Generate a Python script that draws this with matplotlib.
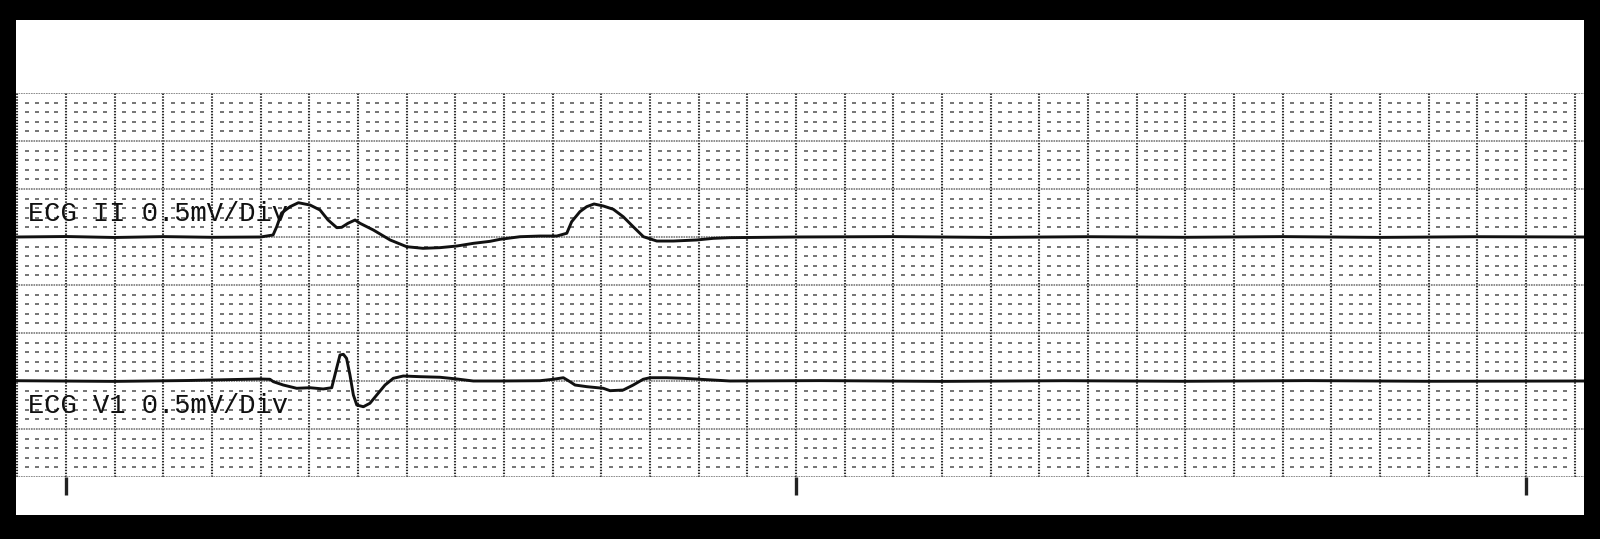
import numpy as np
import matplotlib
matplotlib.use("Agg")
import matplotlib.pyplot as plt

# ---------------- data (time in s, amplitude in mV) ----------------
ecg2_t = [-0.206, 0.00, 0.20, 0.40, 0.60, 0.80, 0.851, 0.866, 0.886, 0.921,
          0.955, 1.003, 1.044, 1.077, 1.113, 1.133, 1.159, 1.188, 1.208, 1.263,
          1.332, 1.400, 1.467, 1.537, 1.606, 1.674, 1.743, 1.784, 1.866, 1.948,
          2.017, 2.058, 2.078, 2.112, 2.140, 2.170, 2.208, 2.249, 2.290, 2.331,
          2.373, 2.428, 2.496, 2.592, 2.660, 2.729, 3.00, 3.40, 3.80, 4.20,
          4.60, 5.00, 5.40, 5.80, 6.239]
ecg2_mv = [0.000, 0.005, -0.005, 0.004, -0.003, 0.000, 0.021, 0.107, 0.250, 0.316,
           0.357, 0.333, 0.281, 0.177, 0.097, 0.101, 0.143, 0.177, 0.143, 0.073,
           -0.031, -0.101, -0.118, -0.111, -0.094, -0.066, -0.045, -0.024, 0.003, 0.010,
           0.010, 0.039, 0.159, 0.264, 0.316, 0.344, 0.323, 0.289, 0.211, 0.107,
           0.003, -0.042, -0.042, -0.031, -0.014, -0.007, 0.000, 0.004, -0.004, 0.003,
           -0.003, 0.004, -0.004, 0.003, 0.000]

v1_t = [-0.206, 0.20, 0.50, 0.797, 0.838, 0.852, 0.893, 0.948, 1.003, 1.057,
        1.092, 1.112, 1.126, 1.140, 1.153, 1.167, 1.181, 1.195, 1.222, 1.249,
        1.277, 1.311, 1.345, 1.386, 1.455, 1.537, 1.606, 1.674, 1.784, 1.948,
        2.003, 2.044, 2.071, 2.092, 2.140, 2.208, 2.236, 2.290, 2.331, 2.372,
        2.400, 2.468, 2.537, 2.605, 2.729, 3.10, 3.60, 4.10, 4.60, 5.10,
        5.60, 6.239]
v1_mv = [0.003, -0.004, 0.005, 0.021, 0.018, -0.007, -0.042, -0.076, -0.070, -0.083,
         -0.070, 0.132, 0.271, 0.278, 0.236, 0.062, -0.146, -0.250, -0.268, -0.232,
         -0.146, -0.042, 0.028, 0.052, 0.045, 0.039, 0.021, 0.000, 0.000, 0.003,
         0.018, 0.034, -0.007, -0.042, -0.059, -0.076, -0.101, -0.094, -0.042, 0.018,
         0.034, 0.034, 0.028, 0.018, 0.000, 0.004, -0.004, 0.003, -0.003, 0.004,
         -0.003, 0.000]

labels = ["ECG II 0.5mV/Div", "ECG V1 0.5mV/Div"]
offsets_mv = [2.5, 1.0]          # trace baselines on the 4 mV tall strip
label_y = [2.667, 0.670]
marker_times = [0.0, 3.0, 6.0]

# ---------------- layout ----------------
W, H = 1600, 539
fig = plt.figure(figsize=(W / 100, H / 100), dpi=100, facecolor="black")

paper = fig.add_axes([16 / W, (H - 515) / H, 1568 / W, 495 / H])
paper.set_facecolor("white")
paper.set_xticks([]); paper.set_yticks([])
for s in paper.spines.values():
    s.set_visible(False)

ax = fig.add_axes([16 / W, (H - 477) / H, 1568 / W, 384 / H])
ax.set_facecolor("none")
px_per_s = 730 / 3.0
t0 = (16 - 66) / px_per_s
t1 = (1584 - 66) / px_per_s
ax.set_xlim(t0, t1)
ax.set_ylim(0, 4)
ax.axis("off")

# major vertical lines (dense dark dots)
for t in np.arange(-0.2, t1, 0.2):
    ax.plot([t, t], [0, 4], color="#2a2a2a", lw=1.5, ls=(0, (0.7, 0.7)),
            zorder=2, solid_capstyle="butt")
# major horizontal lines (light grey fine dots)
for y in np.arange(0, 4.01, 0.5):
    ax.plot([t0, t1], [y, y], color="#7a7a7a", lw=1.2, ls=(0, (1.0, 0.5)), zorder=2)

# minor dots
mt = []
for t in np.arange(-0.2, t1, 0.2):
    for k in range(1, 5):
        tt = t + 0.04 * k
        if t0 < tt < t1:
            mt.append(tt)
my = []
for y in np.arange(0, 4, 0.5):
    for k in range(1, 5):
        my.append(y + 0.1 * k)
MT, MY = np.meshgrid(mt, my)
ax.plot(MT.ravel(), MY.ravel(), ls="none", marker="_", ms=2.3, mew=1.15,
        color="#555555", zorder=2)

# traces
for tt, vv, off in [(ecg2_t, ecg2_mv, offsets_mv[0]), (v1_t, v1_mv, offsets_mv[1])]:
    ax.plot(tt, np.array(vv) + off, color="#111111", lw=2.1, zorder=4,
            solid_joinstyle="round", solid_capstyle="round")

# labels
for lab, yy in zip(labels, label_y):
    ax.text((28 - 66) / px_per_s, yy, lab, family="Liberation Mono", fontsize=19.5,
            color="#111111", ha="left", va="baseline", zorder=5)

# time markers below the grid
ax.vlines(marker_times, -18 / 96, 0, colors="#222222", lw=2.4, clip_on=False, zorder=5)

fig.savefig("out.png", dpi=100, facecolor="black")
